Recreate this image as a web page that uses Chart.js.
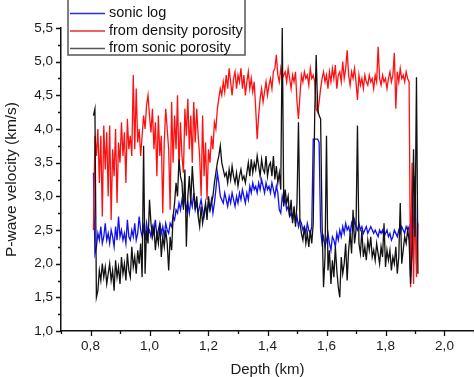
<!DOCTYPE html>
<html>
<head>
<meta charset="utf-8">
<script src="https://cdn.jsdelivr.net/npm/chart.js@4.4.1/dist/chart.umd.min.js"></script>
<style>
  body { margin: 0; background: #fff; }
  #wrap { width: 474px; height: 377px; }
</style>
</head>
<body>
<div id="wrap"><canvas id="velocity" width="474" height="377"></canvas></div>
<script>
// depth (km)
const depth = [
  0.810, 0.815, 0.820, 0.825, 0.830, 0.835, 0.840, 0.845, 0.850, 0.855,
  0.860, 0.865, 0.870, 0.875, 0.880, 0.885, 0.890, 0.895, 0.900, 0.905,
  0.910, 0.915, 0.920, 0.925, 0.930, 0.935, 0.940, 0.945, 0.950, 0.955,
  0.960, 0.965, 0.970, 0.975, 0.980, 0.985, 0.990, 0.995, 1.000, 1.005,
  1.010, 1.015, 1.020, 1.025, 1.030, 1.035, 1.040, 1.045, 1.050, 1.055,
  1.060, 1.065, 1.070, 1.075, 1.080, 1.085, 1.090, 1.095, 1.100, 1.105,
  1.110, 1.115, 1.120, 1.125, 1.130, 1.135, 1.140, 1.145, 1.150, 1.155,
  1.160, 1.165, 1.170, 1.175, 1.180, 1.185, 1.190, 1.195, 1.200, 1.205,
  1.210, 1.215, 1.220, 1.225, 1.230, 1.235, 1.240, 1.245, 1.250, 1.255,
  1.260, 1.265, 1.270, 1.275, 1.280, 1.285, 1.290, 1.295, 1.300, 1.305,
  1.310, 1.315, 1.320, 1.325, 1.330, 1.335, 1.340, 1.345, 1.350, 1.355,
  1.360, 1.365, 1.370, 1.375, 1.380, 1.385, 1.390, 1.395, 1.400, 1.405,
  1.410, 1.415, 1.420, 1.425, 1.430, 1.435, 1.440, 1.445, 1.450, 1.455,
  1.460, 1.465, 1.470, 1.475, 1.480, 1.485, 1.490, 1.495, 1.500, 1.505,
  1.510, 1.515, 1.520, 1.525, 1.530, 1.535, 1.540, 1.545, 1.550, 1.555,
  1.560, 1.565, 1.570, 1.575, 1.580, 1.585, 1.590, 1.595, 1.600, 1.605,
  1.610, 1.615, 1.620, 1.625, 1.630, 1.635, 1.640, 1.645, 1.650, 1.655,
  1.660, 1.665, 1.670, 1.675, 1.680, 1.685, 1.690, 1.695, 1.700, 1.705,
  1.710, 1.715, 1.720, 1.725, 1.730, 1.735, 1.740, 1.745, 1.750, 1.755,
  1.760, 1.765, 1.770, 1.775, 1.780, 1.785, 1.790, 1.795, 1.800, 1.805,
  1.810, 1.815, 1.820, 1.825, 1.830, 1.835, 1.840, 1.845, 1.850, 1.855,
  1.860, 1.865, 1.870, 1.875, 1.880, 1.885, 1.890, 1.895, 1.900, 1.905,
  1.910
];

// P-wave velocity (km/s), sonic log
const sonicLog = [
  3.35, 2.15, 2.25, 2.45, 2.35, 2.55, 2.3, 2.4, 2.6, 2.35,
  2.45, 2.3, 2.5, 2.4, 2.25, 2.55, 2.35, 2.7, 2.4, 2.5,
  2.35, 2.45, 2.3, 2.65, 2.4, 2.35, 2.5, 2.4, 2.6, 2.35,
  2.45, 2.7, 2.5, 2.4, 2.55, 2.35, 2.6, 2.45, 2.5, 2.4,
  2.55, 2.45, 2.65, 2.4, 2.5, 2.6, 2.45, 2.55, 2.4, 2.6,
  2.5, 2.45, 2.6, 2.55, 2.7, 2.65, 2.8, 2.75, 2.9, 2.8,
  2.95, 2.85, 3.0, 2.8, 2.9, 2.75, 2.95, 2.85, 3.05, 2.8,
  2.9, 2.75, 2.85, 2.95, 2.8, 2.7, 2.85, 2.75, 2.9, 2.8,
  2.95, 2.75, 2.9, 3.1, 3.35, 3.2, 3.0, 2.95, 2.9, 3.05,
  2.95, 2.85, 3.0, 2.9, 3.05, 2.95, 2.85, 3.0, 2.9, 3.05,
  2.95, 3.1, 3.0, 2.9, 3.05, 2.95, 3.15, 3.05, 3.2, 3.1,
  3.15, 3.05, 3.2, 3.1, 3.25, 3.15, 3.05, 3.2, 3.1, 3.15,
  3.05, 3.2, 3.1, 3.0, 3.15, 3.05, 2.8, 2.75, 3.0, 2.9,
  2.95, 2.8, 2.85, 2.7, 2.75, 2.65, 2.8, 2.6, 2.7, 2.55,
  2.65, 2.6, 2.5, 2.55, 2.45, 2.6, 2.5, 2.45, 2.55, 3.85,
  3.85, 3.85, 3.85, 3.8, 2.5, 2.3, 2.4, 2.25, 2.35, 2.45,
  2.3, 2.2, 2.4, 2.35, 2.25, 2.45, 2.35, 2.5, 2.4, 2.55,
  2.45, 2.6, 2.5, 2.55, 2.45, 2.6, 2.5, 2.65, 2.55, 2.5,
  2.6, 2.5, 2.55, 2.45, 2.5, 2.55, 2.45, 2.5, 2.55, 2.5,
  2.45, 2.5, 2.45, 2.4, 2.5, 2.45, 2.5, 2.4, 2.45, 2.5,
  2.4, 2.45, 2.35, 2.4, 2.5, 2.45, 2.4, 2.5, 2.45, 2.55,
  2.5, 2.45, 2.55, 2.5, 2.55, 1.8, 2.2, 2.6, 3.3, 2.0,
  null
];

// from density porosity
const densityPorosity = [
  2.5, 3.9, 3.6, 4.0, 3.2, 3.9, 2.7, 4.05, 3.4, 3.95,
  3.0, 4.05, 2.65, 3.7, 3.3, 4.0, 2.9, 3.8, 3.5, 4.1,
  3.6, 3.95, 3.2, 4.15, 3.7, 3.9, 3.6, 4.8, 3.7, 4.6,
  3.8, 4.0, 3.6, 3.9, 4.2, 4.0, 4.35, 4.5, 4.2, 3.95,
  4.3, 3.7, 4.1, 3.3, 4.2, 3.6, 3.9, 2.75, 3.8, 4.3,
  4.0, 3.7, 2.8, 4.4, 3.5, 4.2, 3.7, 4.5, 3.4, 4.1,
  3.6, 3.35, 4.3, 3.9, 4.45, 3.7, 4.2, 3.5, 4.4, 3.8,
  4.3, 3.9, 3.6, 3.0, 4.2, 3.3, 3.8, 2.95, 3.7, 3.5,
  3.9, 3.7, 4.1, 4.0, 4.3, 4.45, 4.6, 4.5, 4.7, 4.55,
  4.8, 4.6, 4.9, 4.7, 4.5, 4.75, 4.85, 4.6, 4.8, 4.7,
  4.9, 4.6, 4.8, 4.5, 4.7, 4.85, 4.6, 4.75, 4.55, 4.7,
  4.3, 3.85, 4.2, 4.45, 4.6, 4.4, 4.55, 4.7, 4.5, 4.65,
  4.75, 4.6, 4.85, 4.9, 5.1, 4.8, 4.7, 4.9, 4.75, 4.8,
  4.85, 4.7, 4.9, 4.75, 4.6, 4.8, 4.7, 4.85, 4.4, 4.15,
  4.5, 4.8, 4.7, 4.85, 4.75, 4.8, 4.65, 4.9, 4.75, 4.8,
  4.7, 4.3, 4.25, 4.4, 4.6, 4.75, 4.85, 4.7, 4.8, 4.6,
  4.85, 4.7, 4.9, 4.75, 4.95, 4.6, 4.8, 4.85, 4.7, 5.0,
  4.75, 4.9, 5.17, 4.8, 4.65, 4.85, 4.75, 4.9, 4.7, 4.43,
  4.8, 4.65, 4.75, 4.6, 4.8, 4.7, 4.65, 4.8, 4.7, 4.75,
  4.6, 4.8, 4.7, 5.22, 4.75, 4.65, 4.8, 4.7, 4.75, 4.6,
  4.75, 4.85, 4.7, 4.8, 5.13, 4.3, 4.85, 4.7, 4.9, 4.75,
  4.8, 4.7, 4.85, 4.75, 4.7, 1.65, 3.5, 1.7, 3.0, 1.8,
  2.6
];

// from sonic porosity
const sonicPorosity = [
  4.2, 4.3, 1.5, 1.6, 1.9, 1.75, 2.0, 1.8, 1.95, 1.7,
  1.85, 2.0, 1.75, 1.9, 1.6, 2.05, 1.8, 1.95, 1.7, 2.1,
  1.85, 2.0, 1.75, 2.15, 1.9, 1.8, 2.25, 1.95, 2.1, 1.85,
  2.2, 2.0, 2.3, 1.8, 3.75, 1.85, 2.5, 2.3, 2.95, 2.6,
  2.4, 2.55, 2.2, 2.45, 2.3, 2.6, 2.1, 2.4, 2.25, 2.5,
  2.3, 1.9, 2.4, 2.2, 2.7, 2.9, 3.2, 3.0, 3.55, 3.3,
  3.2, 2.8, 3.4, 2.25, 3.0, 3.3, 2.9, 3.45, 3.1, 2.8,
  3.0, 2.7, 2.55, 2.85, 2.6, 2.75, 2.9, 2.65, 3.0, 2.8,
  2.9, 3.0, 3.2, 3.35, 3.5, 3.6, 3.75, 3.5, 3.4, 3.3,
  3.35, 3.2, 3.4, 3.25, 3.45, 3.3, 3.2, 3.35, 3.15, 3.3,
  3.4, 3.25, 3.3, 3.2, 3.35, 3.5, 3.3, 3.55, 3.35, 3.5,
  3.4, 3.6, 3.45, 3.3, 3.55, 3.4, 3.35, 3.6, 3.3, 3.45,
  3.5, 3.3, 3.6, 3.25, 3.45, 3.2, 3.35, 3.1, 5.5, 2.85,
  3.1, 2.9, 3.0, 2.7, 2.95, 2.6, 2.85, 2.55, 2.9, 4.1,
  2.6, 2.45, 2.35, 2.55, 2.3, 2.45, 2.25, 2.5, 2.3, 2.6,
  4.2, 5.1, 4.3, 4.2, 4.15, 2.6, 1.65, 2.1, 3.9, 1.9,
  2.2, 1.7, 2.05, 1.8, 2.25, 1.9, 1.65, 1.5, 2.1, 1.85,
  2.0, 2.3, 1.75, 2.2, 2.45, 2.15, 2.8, 2.3, 2.5, 4.05,
  2.3, 2.15, 2.5, 2.1, 2.25, 2.05, 2.35, 2.2, 2.4, 2.1,
  2.2, 2.05, 2.3, 2.15, 2.0, 2.25, 2.1, 2.6, 1.95, 2.2,
  2.05, 2.2, 1.9, 2.1, 2.0, 2.25, 1.85, 2.1, 2.9, 2.0,
  2.2, 2.4, 2.3, 2.5, 2.35, 1.7, 2.2, 3.7, 2.4, 4.77,
  1.85
];

const seriesNames = ['sonic log', 'from density porosity', 'from sonic porosity'];
const seriesColors = ['#1010f0', '#ff1010', '#111111'];
const legendSwatch = ['#2a2ae0', '#e83030', '#555555'];

// axis ticks
const xMajorTicks = [0.8, 1.0, 1.2, 1.4, 1.6, 1.8, 2.0];
const xMinorTicks = [0.7, 0.9, 1.1, 1.3, 1.5, 1.7, 1.9, 2.1];
const yMajorTicks = [1.0, 1.5, 2.0, 2.5, 3.0, 3.5, 4.0, 4.5, 5.0, 5.5];
const yMinorTicks = [1.25, 1.75, 2.25, 2.75, 3.25, 3.75, 4.25, 4.75, 5.25];

const FONT = "'Liberation Sans', Arial, sans-serif";
Chart.defaults.font.family = FONT;
Chart.defaults.color = '#1a1a1a';

function pairs(values) {
  return depth.map((d, i) => ({x: d, y: values[i]}));
}

const comma = v => v.toFixed(1).replace('.', ',');

// tick marks (major long, minor short), drawn outward
const tickMarks = {
  id: 'tickMarks',
  afterDraw(chart) {
    const ctx = chart.ctx;
    const xs = chart.scales.x, ys = chart.scales.y;
    const area = chart.chartArea;
    ctx.save();
    ctx.strokeStyle = '#111';
    ctx.lineWidth = 1.3;
    ctx.beginPath();
    xMajorTicks.forEach(v => {
      const p = Math.round(xs.getPixelForValue(v)) + 0.5;
      ctx.moveTo(p, area.bottom); ctx.lineTo(p, area.bottom + 5);
    });
    xMinorTicks.forEach(v => {
      const p = Math.round(xs.getPixelForValue(v)) + 0.5;
      ctx.moveTo(p, area.bottom); ctx.lineTo(p, area.bottom + 3);
    });
    yMajorTicks.forEach(v => {
      const p = Math.round(ys.getPixelForValue(v)) + 0.5;
      ctx.moveTo(area.left, p); ctx.lineTo(area.left - 5, p);
    });
    yMinorTicks.forEach(v => {
      const p = Math.round(ys.getPixelForValue(v)) + 0.5;
      ctx.moveTo(area.left, p); ctx.lineTo(area.left - 3, p);
    });
    ctx.stroke();
    ctx.restore();
  }
};

// boxed legend in the top left corner
const boxLegend = {
  id: 'boxLegend',
  afterDraw(chart) {
    const ctx = chart.ctx;
    ctx.save();
    ctx.fillStyle = '#fff';
    ctx.fillRect(68, -2, 177, 57);
    ctx.strokeStyle = '#555';
    ctx.lineWidth = 1.5;
    ctx.strokeRect(68, -2, 177, 57);
    ctx.font = '14.5px ' + FONT;
    ctx.textBaseline = 'middle';
    chart.data.datasets.forEach((ds, i) => {
      const y = 13 + i * 17.5;
      ctx.strokeStyle = legendSwatch[i];
      ctx.lineWidth = 1.3;
      ctx.beginPath();
      ctx.moveTo(70, y + 0.5); ctx.lineTo(105, y + 0.5);
      ctx.stroke();
      ctx.fillStyle = '#111';
      ctx.fillText(ds.label, 109, y);
    });
    ctx.restore();
  }
};

const velocityChart = new Chart(document.getElementById('velocity'), {
  type: 'line',
  data: {
    datasets: [
      {label: seriesNames[0], data: pairs(sonicLog), order: 3},
      {label: seriesNames[1], data: pairs(densityPorosity), order: 2},
      {label: seriesNames[2], data: pairs(sonicPorosity), order: 1}
    ].map((ds, i) => Object.assign(ds, {
      borderColor: seriesColors[i],
      borderWidth: 1.3,
      pointRadius: 0,
      tension: 0,
      spanGaps: false
    }))
  },
  options: {
    responsive: false,
    animation: false,
    layout: {padding: {top: 28, right: 0, left: 0, bottom: 0}},
    plugins: {legend: {display: false}, tooltip: {enabled: false}},
    scales: {
      x: {
        type: 'linear',
        min: 0.7,
        max: 2.1,
        afterBuildTicks: s => { s.ticks = xMajorTicks.map(v => ({value: v})); },
        afterFit: s => { s.height = 46; },
        grid: {display: false, drawTicks: false},
        border: {display: true, color: '#111', width: 1.5},
        ticks: {callback: v => comma(v), padding: 7, font: {size: 13.5}, maxRotation: 0},
        title: {display: true, text: 'Depth (km)', font: {size: 15}, padding: {top: 0, bottom: -2}}
      },
      y: {
        min: 1.0,
        max: 5.5,
        afterBuildTicks: s => { s.ticks = yMajorTicks.map(v => ({value: v})); },
        afterFit: s => { s.width = 61; },
        grid: {display: false, drawTicks: false},
        border: {display: true, color: '#111', width: 1.5},
        ticks: {callback: v => comma(v), padding: 8, font: {size: 13.5}},
        title: {display: true, text: 'P-wave velocity (km/s)', font: {size: 15.5}, padding: {top: 2, bottom: 0}}
      }
    }
  },
  plugins: [tickMarks, boxLegend]
});
</script>
</body>
</html>
